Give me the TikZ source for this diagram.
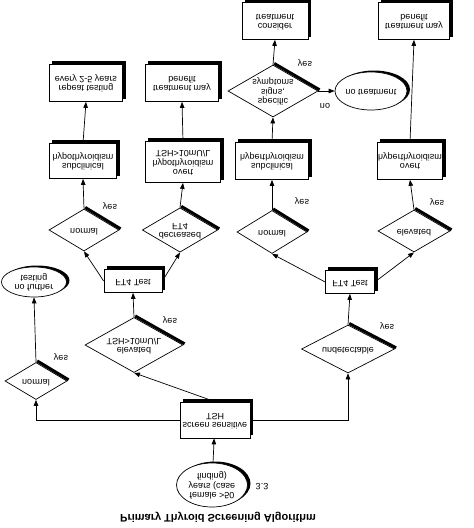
\documentclass[tikz,border=0pt]{standalone}
\usepackage{fontspec}
\setmainfont{Liberation Sans}
\usepackage{graphicx}
\usetikzlibrary{shapes.geometric,arrows.meta,backgrounds}
\newcommand{\fl}[1]{\scalebox{1}[-1]{\begin{tabular}{@{}c@{}}#1\end{tabular}}}
\begin{document}
\begin{tikzpicture}[x=1pt,y=-1pt,
  every node/.style={font=\fontsize{9}{9.8}\selectfont, inner sep=0pt},
  box/.style={draw, fill=white, line width=0.7pt, rectangle},
  dec/.style={draw, fill=white, line width=0.7pt, diamond, aspect=1.7},
  term/.style={draw, fill=white, line width=0.7pt, ellipse},
  conn/.style={line width=0.7pt, -{Triangle[length=6pt,width=4.5pt]}},
  shad/.style={line width=3pt},
  lbl/.style={font=\fontsize{9}{9.8}\selectfont}
]
\useasboundingbox (0,0) rectangle (474,528);

% boxes
\node[box, minimum width=70pt, minimum height=36pt] (tsh) at (215,420) {\fl{screen sensitive\\TSH}};
\node[box, minimum width=58pt, minimum height=23pt] (ft4L) at (133,281) {\fl{FT4 Test}};
\node[box, minimum width=49pt, minimum height=23pt] (ft4R) at (350,282) {\fl{FT4 Test}};
\node[box, minimum width=67pt, minimum height=35pt] (subhypo) at (83,161) {\fl{subclinical\\hypothyroidism}};
\node[box, minimum width=75pt, minimum height=41pt] (overthypo) at (183,162) {\fl{overt\\hypothyroidism\\TSH>10mU/L}};
\node[box, minimum width=73pt, minimum height=37pt] (subhyper) at (272,161) {\fl{subclinical\\hyperthyroidism}};
\node[box, minimum width=65pt, minimum height=37pt] (overthyper) at (410,161) {\fl{overt\\hyperthyroidism}};
\node[box, minimum width=73pt, minimum height=37pt] (repeat) at (86,83) {\fl{repeat testing\\every 2-5 years}};
\node[box, minimum width=73pt, minimum height=37pt] (benefitL) at (182,83) {\fl{treatment may\\benefit}};
\node[box, minimum width=66pt, minimum height=37pt] (consider) at (275,21) {\fl{consider\\treatment}};
\node[box, minimum width=71pt, minimum height=37pt] (benefitR) at (414,21) {\fl{treatment may\\benefit}};

% decisions
\node[dec, minimum width=62pt, minimum height=37pt] (normL) at (36,381) {\fl{normal}};
\node[dec, minimum width=98pt, minimum height=55pt] (elev1) at (134,345) {\fl{elevated\\TSH>10mU/L}};
\node[dec, minimum width=93pt, minimum height=48pt] (undet) at (348,349) {\fl{undetectable}};
\node[dec, minimum width=70pt, minimum height=42pt] (normM) at (84,230) {\fl{normal}};
\node[dec, minimum width=75pt, minimum height=42pt] (decr) at (180,230) {\fl{decreased\\FT4}};
\node[dec, minimum width=70pt, minimum height=43pt] (normR) at (272,232) {\fl{normal}};
\node[dec, minimum width=72pt, minimum height=42pt] (elevR) at (414,231) {\fl{elevated}};
\node[dec, minimum width=90pt, minimum height=52pt, font=\fontsize{9}{9.2}\selectfont] (spec) at (273,91) {\fl{specific\\signs,\\symptoms}};

% terminals
\node[term, minimum width=71pt, minimum height=44pt] (female) at (212,485) {\fl{female >50\\years (case\\finding)}};
\node[term, minimum width=65pt, minimum height=30pt] (nofurther) at (34,282) {\fl{no further\\testing}};
\node[term, minimum width=72pt, minimum height=38pt] (notreat) at (371,91) {\fl{no treatment}};

% labels
\node[lbl] (num) at (262,485) {\fl{3.3}};
\node[lbl] (y1) at (61,357) {\fl{yes}};
\node[lbl] (y2) at (170,320) {\fl{yes}};
\node[lbl] (y3) at (387,326) {\fl{yes}};
\node[lbl] (y4) at (110,206) {\fl{yes}};
\node[lbl] (y5) at (302,201) {\fl{yes}};
\node[lbl] (y6) at (437,202) {\fl{yes}};
\node[lbl] (y7) at (305,63) {\fl{yes}};
\node[lbl] (n1) at (325,105) {\fl{no}};
\node[font=\bfseries\fontsize{11}{13}\selectfont] (title) at (218,517) {\fl{Primary Thyroid Screening Algorithm}};

% shadows
\begin{scope}[on background layer]
\foreach \b in {tsh,ft4L,ft4R,subhypo,overthypo,subhyper,overthyper,repeat,benefitL,consider,benefitR}{
  \fill ([shift={(3,-3)}]\b.south west) rectangle ([shift={(3,-3)}]\b.north east);
}
\fill ([shift={(3,-1.5)}]female.center) ellipse [x radius=35.5pt, y radius=22pt];
\fill ([shift={(3,-1.5)}]nofurther.center) ellipse [x radius=32.5pt, y radius=15pt];
\fill ([shift={(3,-1.5)}]notreat.center) ellipse [x radius=36pt, y radius=19pt];
\end{scope}
\foreach \d in {normL,elev1,undet,normM,decr,normR,elevR,spec}{
  \draw[shad] ([shift={(1.2,-1.2)}]\d.north) -- ([shift={(1.2,-1.2)}]\d.east);
}

% connectors
\draw[conn] (female) -- (tsh);
\draw[conn] (tsh.west) -| (normL.south);
\draw[conn] (tsh.east) -| (undet.south);
\draw[conn] (tsh.north) -- (elev1.south);
\draw[conn] (normL.north) -- (nofurther.south);
\draw[conn] (elev1.north) -- (ft4L.south);
\draw[conn] (ft4L.west) -- (normM.south);
\draw[conn] (ft4L.east) -- (decr.south);
\draw[conn] (normM.north) -- (subhypo.south);
\draw[conn] (decr.north) -- (overthypo.south);
\draw[conn] (subhypo.north) -- (repeat.south);
\draw[conn] (overthypo.north) -- (benefitL.south);
\draw[conn] (undet.north) -- (ft4R.south);
\draw[conn] (ft4R.west) -- (normR.south);
\draw[conn] (ft4R.east) -- (elevR.south);
\draw[conn] (normR.north) -- (subhyper.south);
\draw[conn] (elevR.north) -- (overthyper.south);
\draw[conn] (subhyper.north) -- (spec.south);
\draw[conn] (spec.north) -- (consider.south);
\draw[conn] (spec.east) -- (notreat.west);
\draw[conn] (overthyper.north) -- (benefitR.south);
\end{tikzpicture}
\end{document}
